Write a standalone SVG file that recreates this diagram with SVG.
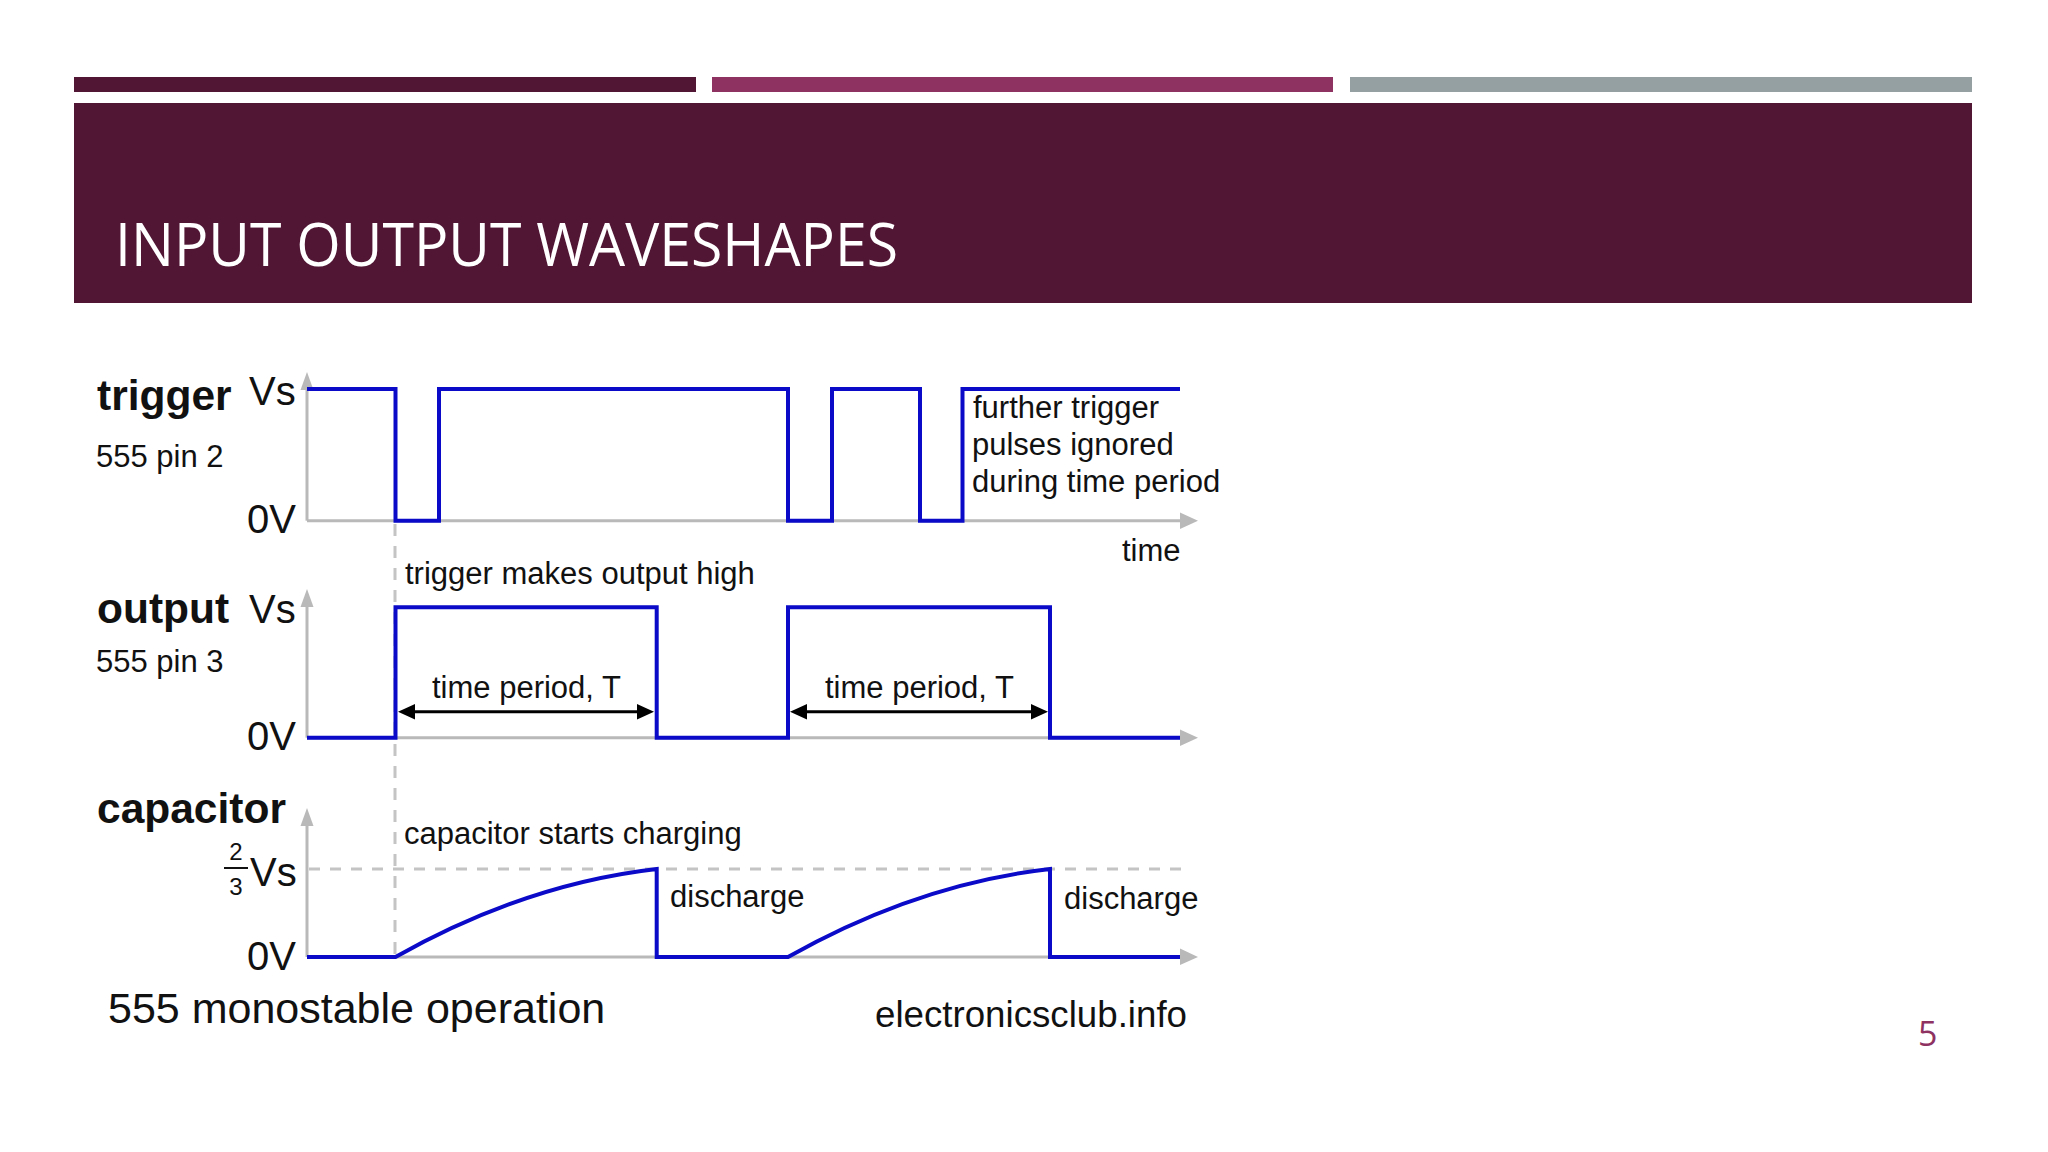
<svg xmlns="http://www.w3.org/2000/svg" width="2048" height="1152" viewBox="0 0 2048 1152">
<style>
.t{font-family:"Liberation Sans",Arial,sans-serif;fill:#111}
.b{font-weight:bold;font-size:42.5px}
.s{font-size:31px}
.v{font-size:40px}
.ax{stroke:#b9b9b9;stroke-width:3;fill:none}
.axh{fill:#b9b9b9}
.w{stroke:#0a0ac8;stroke-width:4;fill:none;stroke-linejoin:miter}
.dash{stroke:#c4c4c4;stroke-width:3;fill:none}
.tp{stroke:#000;stroke-width:3}
</style>
<rect width="2048" height="1152" fill="#ffffff"/>
<g id="header">
<rect x="74" y="77" width="622" height="15" fill="#501634"/>
<rect x="712" y="77" width="621" height="15" fill="#8e3262"/>
<rect x="1350" y="77" width="622" height="15" fill="#95a0a3"/>
<rect x="74" y="103" width="1898" height="200" fill="#501634"/>
<text x="115" y="266" font-family="'Open Sans',sans-serif" font-size="60" fill="#ffffff" textLength="783" lengthAdjust="spacingAndGlyphs">INPUT OUTPUT WAVESHAPES</text>
</g>
<g id="axes">
<line class="ax" x1="307" y1="388" x2="307" y2="520.7"/>
<line class="ax" x1="307" y1="520.7" x2="1182" y2="520.7"/>
<polygon class="axh" points="307,372 300.5,390 313.5,390"/>
<polygon class="axh" points="1198,520.7 1180,512.5 1180,529"/>
<line class="ax" x1="307" y1="605" x2="307" y2="737.7"/>
<line class="ax" x1="307" y1="737.7" x2="1182" y2="737.7"/>
<polygon class="axh" points="307,589 300.5,607 313.5,607"/>
<polygon class="axh" points="1198,737.7 1180,729.5 1180,746"/>
<line class="ax" x1="307" y1="824" x2="307" y2="957"/>
<line class="ax" x1="307" y1="957" x2="1182" y2="957"/>
<polygon class="axh" points="307,808 300.5,826 313.5,826"/>
<polygon class="axh" points="1198,957 1180,948.5 1180,965"/>
</g>
<g id="guides">
<line class="dash" x1="395" y1="524" x2="395" y2="957" stroke-dasharray="12 10"/>
<line class="dash" x1="309" y1="869" x2="1182" y2="869" stroke-dasharray="11 10"/>
</g>
<g id="waveforms">
<path class="w" d="M307,389 H395.5 V520.7 H439 V389 H788 V520.7 H832 V389 H920 V520.7 H962.5 V389 H1180"/>
<path class="w" d="M307,737.7 H395.5 V607.3 H656.7 V737.7 H788 V607.3 H1050 V737.7 H1180"/>
<path class="w" d="M307,957 H395.5 C470,915 560,880 656.7,869 V957 H788 C862.5,915 952.5,880 1050,869 V957 H1180"/>
</g>
<g id="time-period-arrows">
<line class="tp" x1="410" y1="711.7" x2="642" y2="711.7"/>
<polygon points="398,711.7 415,704 415,719.4" fill="#000"/>
<polygon points="654,711.7 637,704 637,719.4" fill="#000"/>
<line class="tp" x1="802" y1="711.7" x2="1036" y2="711.7"/>
<polygon points="790,711.7 807,704 807,719.4" fill="#000"/>
<polygon points="1048,711.7 1031,704 1031,719.4" fill="#000"/>
</g>
<g id="labels">
<text class="t b" x="97" y="410">trigger</text>
<text class="t v" x="249" y="405">Vs</text>
<text class="t s" x="96" y="467" font-size="30">555 pin 2</text>
<text class="t v" x="247" y="533">0V</text>
<text class="t b" x="97" y="623">output</text>
<text class="t v" x="249" y="623">Vs</text>
<text class="t s" x="96" y="672" font-size="30">555 pin 3</text>
<text class="t v" x="247" y="750">0V</text>
<text class="t b" x="97" y="823">capacitor</text>
<text class="t" x="236" y="860" font-size="24" text-anchor="middle">2</text>
<line x1="224" y1="868" x2="248" y2="868" stroke="#111" stroke-width="2"/>
<text class="t" x="236" y="895" font-size="24" text-anchor="middle">3</text>
<text class="t v" x="250" y="886">Vs</text>
<text class="t v" x="247" y="970">0V</text>
<text class="t s" x="973" y="418">further trigger</text>
<text class="t s" x="972" y="455">pulses ignored</text>
<text class="t s" x="972" y="492">during time period</text>
<text class="t s" x="1122" y="561">time</text>
<text class="t s" x="405" y="584">trigger makes output high</text>
<text class="t s" x="432" y="698">time period, T</text>
<text class="t s" x="825" y="698">time period, T</text>
<text class="t s" x="404" y="844">capacitor starts charging</text>
<text class="t s" x="670" y="907">discharge</text>
<text class="t s" x="1064" y="909">discharge</text>
<text class="t" x="108" y="1023" font-size="43">555 monostable operation</text>
<text class="t" x="875" y="1027" font-size="36.7">electronicsclub.info</text>
</g>
<text x="1918" y="1046" font-family="'Open Sans',sans-serif" font-size="34" fill="#8e3262">5</text>
</svg>
